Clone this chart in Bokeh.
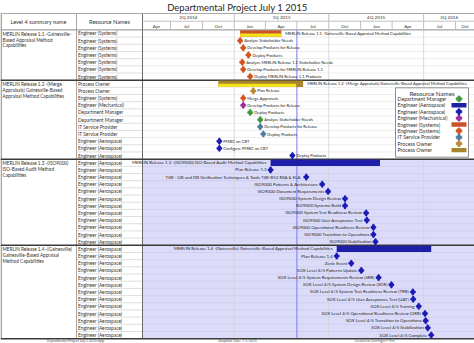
import pandas as pd
from bokeh.plotting import figure
from bokeh.models import Range1d
from bokeh.core.properties import value
from bokeh.embed import file_html
from bokeh.resources import INLINE

# ---------------- data ----------------
title_text = "Departmental Project July 1 2015"
col_headers = ["Level 4 summary name", "Resource Names"]
status_date = "2015-07-01"
view_start = "2014-04-11"
view_end = "2016-11-25"

upper_tier_starts = ["2014-04-01", "2015-01-01", "2015-10-01", "2016-07-01", "2017-04-01"]
upper_tier_labels = ["2Q 2014", "1Q 2015", "4Q 2015", "3Q 2016"]
lower_tier_starts = ["2014-04-01", "2014-07-01", "2014-10-01", "2015-01-01", "2015-04-01",
                     "2015-07-01", "2015-10-01", "2016-01-01", "2016-04-01", "2016-07-01",
                     "2016-10-01", "2017-01-01"]
lower_tier_labels = ["Apr", "Jul", "Oct", "Jan", "Apr", "Jul", "Oct", "Jan", "Apr", "Jul", "Oct"]

section_titles = [
    ["MERLIN Release 1.1 -Gainesville-", "Based Appraisal Method", "Capabilities"],
    ["MERLIN Release 1.2 -(Merge", "Appraisals) Gainesville-Based", "Appraisal Method Capabilities"],
    ["MERLIN Release 1.3 -(ISO9000)", "ISO-Based Audit Method", "Capabilities"],
    ["MERLIN Release 1.4 -(Gainesville)", "Gainesville-Based Appraisal", "Method Capabilities"],
]
section_sizes = [7, 11, 12, 13]
section_label_side = ["right", "right", "left", "left"]

resources = (["Engineer (Systems)"] * 7 +
             ["Process Owner", "Process Owner", "Engineer (Systems)", "Engineer (Mechanical)",
              "Department Manager", "Department Manager", "IT Service Provider",
              "IT Service Provider", "Engineer (Aerospace)", "Engineer (Aerospace)",
              "Engineer (Aerospace)"] +
             ["Engineer (Aerospace)"] * 25)

task_names = [
    "MERLIN Release 1.1 -Gainesville-Based Appraisal Method Capabilities",
    "Analyze Stakeholder Needs",
    "Develop Products for Release",
    "Deploy Products",
    "Analyze MERLIN Release 1.1 Stakeholder Needs",
    "Develop Products for MERLIN Release 1.1",
    "Deploy MERLIN Release 1.1 Products",
    "MERLIN Release 1.2 -(Merge Appraisals) Gainesville-Based Appraisal Method Capabilities",
    "Plan Release",
    "Merge Appraisals",
    "Develop Products for Release",
    "Deploy Products",
    "Analyze Stakeholder Needs",
    "Develop Products for Release",
    "Deploy Products",
    "PMBC on CBT",
    "Configure PMBC on CBT",
    "Deploy Products",
    "MERLIN Release 1.3 -(ISO9000) ISO-Based Audit Method Capabilities",
    "Plan Release 1.3",
    "TSB - OB and DB Verification Techniques & Tools  TSB-B53 RSA & ELA",
    "ISO9000 Patterns & Architecture",
    "ISO9000 Document Requirements",
    "ISO9000 System Design Review",
    "ISO9000 Systems Build",
    "ISO9000 System Test Readiness Review",
    "ISO9000 User Acceptance Test",
    "ISO9000 Operational Readiness Review",
    "ISO9000 Transition to Operations",
    "ISO9000 Stabilization",
    "MERLIN Release 1.4 -(Gainesville) Gainesville-Based Appraisal Method Capabilities",
    "Plan Release 1.4",
    "Zenic Event",
    "SOX Level 4/5 Patterns Update",
    "SOX Level 4/5 System Requirements Review (SRR)",
    "SOX Level 4/5 System Design Review (SDR)",
    "SOX Level 4/5 System Test Readiness Review (TRR)",
    "SOX Level 4/5 User Acceptance Test (UAT)",
    "SOX Level 4/5 Training",
    "SOX Level 4/5 Operational Readiness Review (ORR)",
    "SOX Level 4/5 Transition to Operations",
    "SOX Level 4/5 Stabilization",
    "SOX Level 4/5 Complete",
]

task_start = [
    "2015-01-18", "2015-01-18", "2015-01-27", "2015-02-11", "2015-01-24", "2015-01-27", "2015-02-16",
    "2014-11-16", "2015-02-25", "2015-01-27", "2015-01-27", "2015-02-16", "2015-03-17", "2015-03-17",
    "2015-03-26", "2014-11-19", "2014-11-19", "2015-06-18",
    "2015-04-16", "2015-04-16", "2015-07-28", "2015-09-12", "2015-09-29", "2015-11-17", "2015-11-17",
    "2016-01-17", "2016-01-19", "2016-02-07", "2016-02-07", "2016-02-13",
    "2015-10-24", "2015-10-24", "2015-12-05", "2016-01-03", "2016-02-22", "2016-03-30", "2016-05-31",
    "2016-06-01", "2016-06-17", "2016-07-05", "2016-07-07", "2016-07-13", "2016-07-23",
]
task_finish = [None] * 43
task_finish[0] = "2015-05-17"
task_finish[7] = "2015-07-19"
task_finish[18] = "2016-02-26"
task_finish[30] = "2016-07-23"
task_progress = [None] * 43
task_progress[0] = "2015-05-17"
task_progress[7] = "2015-06-29"

milestone_colors = {
    "Department Manager": "#3c9a3c",
    "Engineer (Aerospace)": "#1c1cb4",
    "Engineer (Mechanical)": "#9c2c9c",
    "Engineer (Systems)": "#d4531f",
    "IT Service Provider": "#4e7ea2",
    "Process Owner": "#b88c34",
}
bar_colors = {
    "Engineer (Aerospace)": "#1e1ea8",
    "Engineer (Systems)": "#c9532b",
    "Process Owner": "#a8842c",
}
progress_color = "#f4e21a"

legend_labels = ["Department Manager", "Engineer (Aerospace)", "Engineer (Aerospace)",
                 "Engineer (Mechanical)", "Engineer (Systems)", "Engineer (Systems)",
                 "IT Service Provider", "Process Owner", "Process Owner"]
legend_kinds = ["milestone", "bar", "milestone", "milestone", "bar", "milestone",
                "milestone", "milestone", "bar"]

footer_texts = ["Departmental Project July 1 2015.mpp", "Snapshot Date: 7/1/2015",
                "Created in OnePager\u00ae Pro"]

# ---------------- layout ----------------
W, H = 474, 343
TABLE_W = 142
COL1_W = 76
HEADER_TOP = 13.0
TIER_SPLIT = 20.7
BODY_TOP = 29.4
ROW_H = 7.18
FONT = value("Lato")


def ms(d):
    return pd.Timestamp(d).value / 1e6


MSPP = (ms(view_end) - ms(view_start)) / (W - TABLE_W)
X_LEFT = ms(view_start) - TABLE_W * MSPP
X_RIGHT = ms(view_end)


def px(xp):
    return X_LEFT + xp * MSPP


n = len(task_names)
row_y = [BODY_TOP + ROW_H * (i + 0.5) for i in range(n)]
bounds = [BODY_TOP]
for s in section_sizes:
    bounds.append(bounds[-1] + s * ROW_H)
BODY_BOTTOM = bounds[-1]
section_of = []
for si, s in enumerate(section_sizes):
    section_of += [si] * s

p = figure(width=W, height=H, x_range=Range1d(X_LEFT, X_RIGHT), y_range=Range1d(H, 0),
           output_backend="svg", toolbar_location=None, min_border=0,
           x_axis_location=None, y_axis_location=None)
p.grid.visible = False
p.outline_line_color = None
p.background_fill_color = "white"
p.border_fill_color = "white"

# lavender background for sections 3-4 chart area
p.quad(left=[px(TABLE_W)], right=[X_RIGHT], top=[bounds[2]], bottom=[bounds[4]],
       fill_color="#dcdcf9", line_color=None)

# row lines
chart_x0, chart_x1, cy, cc = [], [], [], []
for i in range(n):
    yb = BODY_TOP + ROW_H * (i + 1)
    chart_x0.append(px(TABLE_W)); chart_x1.append(X_RIGHT); cy.append(yb)
    cc.append("#e8e8e8" if section_of[i] < 2 else "#cdcdf2")
p.segment(x0=chart_x0, x1=chart_x1, y0=cy, y1=cy, line_color=cc, line_width=0.8)
p.segment(x0=[px(COL1_W)] * n, x1=[px(TABLE_W)] * n, y0=cy, y1=cy,
          line_color="#d6d6d6", line_width=0.8)

# vertical faint grid at upper tier boundaries
vx = [ms(d) for d in upper_tier_starts if ms(view_start) < ms(d) < X_RIGHT]
p.segment(x0=vx, x1=vx, y0=[BODY_TOP] * len(vx), y1=[BODY_BOTTOM] * len(vx),
          line_color="#d2d2d2", line_width=0.8)

# table verticals
p.segment(x0=[px(COL1_W), px(TABLE_W)], x1=[px(COL1_W), px(TABLE_W)],
          y0=[HEADER_TOP, HEADER_TOP], y1=[BODY_BOTTOM, BODY_BOTTOM],
          line_color=["#a8a8a8", "#6a6a6a"], line_width=1)
p.segment(x0=[px(0.7)], x1=[px(0.7)], y0=[HEADER_TOP], y1=[BODY_BOTTOM],
          line_color="#a0a0a0", line_width=1.5)

# header
p.segment(x0=[px(0), px(TABLE_W), px(0)], x1=[X_RIGHT, X_RIGHT, X_RIGHT],
          y0=[HEADER_TOP, TIER_SPLIT, BODY_TOP], y1=[HEADER_TOP, TIER_SPLIT, BODY_TOP],
          line_color=["#a8a8a8", "#c0c0c0", "#8a8a8a"], line_width=1)
ux = [ms(d) for d in upper_tier_starts if ms(view_start) < ms(d) < X_RIGHT]
p.segment(x0=ux, x1=ux, y0=[HEADER_TOP] * len(ux), y1=[TIER_SPLIT] * len(ux),
          line_color="#c0c0c0", line_width=1)
lx = [ms(d) for d in lower_tier_starts if ms(view_start) < ms(d) < X_RIGHT]
p.segment(x0=lx, x1=lx, y0=[TIER_SPLIT] * len(lx), y1=[BODY_TOP] * len(lx),
          line_color="#c0c0c0", line_width=1)


def tier_centers(starts, labels):
    xs, ts = [], []
    for k, lab in enumerate(labels):
        a = max(ms(starts[k]), ms(view_start))
        b = min(ms(starts[k + 1]), X_RIGHT)
        if b > a:
            xs.append((a + b) / 2); ts.append(lab)
    return xs, ts


uxs, uts = tier_centers(upper_tier_starts, upper_tier_labels)
p.text(x=uxs, y=[(HEADER_TOP + TIER_SPLIT) / 2] * len(uxs), text=uts, text_font=FONT,
       text_font_size="4.6px", text_align="center", text_baseline="middle", text_color="#333333")
lxs, lts = tier_centers(lower_tier_starts, lower_tier_labels)
p.text(x=lxs, y=[(TIER_SPLIT + BODY_TOP) / 2] * len(lxs), text=lts, text_font=FONT,
       text_font_size="4.6px", text_align="center", text_baseline="middle", text_color="#333333")

p.text(x=[px(COL1_W / 2), px((COL1_W + TABLE_W) / 2)], y=[21.3, 21.3], text=col_headers,
       text_font=FONT, text_font_size="5.6px", text_align="center", text_baseline="middle",
       text_color="#333333")

# title
p.text(x=[px(W / 2)], y=[6.8], text=[title_text], text_font=FONT, text_font_size="9.5px",
       text_align="center", text_baseline="middle", text_color="#262626")

# table body text
p.text(x=[px(77.5)] * n, y=row_y, text=resources, text_font=FONT, text_font_size="4.8px",
       text_align="left", text_baseline="middle", text_color="#333333")
tx, ty, tt = [], [], []
for si, lines in enumerate(section_titles):
    for li, line in enumerate(lines):
        tx.append(px(2)); ty.append(bounds[si] + 3.7 + 5.9 * li); tt.append(line)
p.text(x=tx, y=ty, text=tt, text_font=FONT, text_font_size="4.7px", text_align="left",
       text_baseline="middle", text_color="#333333")

# status line
p.segment(x0=[ms(status_date)], x1=[ms(status_date)], y0=[BODY_TOP], y1=[BODY_BOTTOM],
          line_color="#7b7bf0", line_width=1)

# section separators
sep_y = bounds[1:]
p.segment(x0=[px(0)] * len(sep_y), x1=[X_RIGHT] * len(sep_y), y0=sep_y, y1=sep_y,
          line_color="#3a3a3a", line_width=1.5)

# summary bars
for i in range(n):
    if task_finish[i] is None:
        continue
    col = bar_colors[resources[i]]
    y = row_y[i]
    p.quad(left=[ms(task_start[i])], right=[ms(task_finish[i])], top=[y - 3.2], bottom=[y + 3.2],
           fill_color=col, line_color=None)
    if task_progress[i] is not None:
        p.quad(left=[ms(task_start[i])], right=[ms(task_progress[i])], top=[y], bottom=[y + 3.2],
               fill_color=progress_color, line_color=None)

# milestones
mx, my, mc = [], [], []
for i in range(n):
    if task_finish[i] is None:
        mx.append(ms(task_start[i])); my.append(row_y[i]); mc.append(milestone_colors[resources[i]])
p.scatter(x=mx, y=my, marker="diamond", size=7, fill_color=mc, line_color=mc, line_width=0.4)
p.scatter(x=mx, y=my, marker="plus", size=5.2, fill_color=mc, line_color=mc, line_width=0.3)

# task labels
rx, ry, rt, lx2, ly2, lt2 = [], [], [], [], [], []
for i in range(n):
    side = section_label_side[section_of[i]]
    if side == "right":
        xe = ms(task_finish[i]) if task_finish[i] is not None else ms(task_start[i])
        rx.append(xe); ry.append(row_y[i]); rt.append(task_names[i])
    else:
        lx2.append(ms(task_start[i])); ly2.append(row_y[i]); lt2.append(task_names[i])
p.text(x=rx, y=ry, text=rt, text_font=FONT, text_font_size="4.1px", text_align="left",
       text_baseline="middle", text_color="#222222", x_offset=4)
p.text(x=lx2, y=ly2, text=lt2, text_font=FONT, text_font_size="4.4px", text_align="right",
       text_baseline="middle", text_color="#222222", x_offset=-4)

# legend
LG_L, LG_R, LG_T, LG_B = 395, 468, 87.3, 156.7
p.quad(left=[px(LG_L)], right=[px(LG_R)], top=[LG_T], bottom=[LG_B], fill_color="white",
       line_color="#8c8c8c", line_width=1)
p.text(x=[px((LG_L + LG_R) / 2)], y=[92.6], text=["Resource Names"], text_font=FONT,
       text_font_size="6.2px", text_align="center", text_baseline="middle", text_color="#333333")
ly = [98.4 + 6.4 * k for k in range(len(legend_labels))]
p.text(x=[px(397)] * len(ly), y=ly, text=legend_labels, text_font=FONT, text_font_size="5.2px",
       text_align="left", text_baseline="middle", text_color="#333333")
for k, kind in enumerate(legend_kinds):
    if kind == "bar":
        p.quad(left=[px(451)], right=[px(466)], top=[ly[k] - 2.2], bottom=[ly[k] + 2.2],
               fill_color=bar_colors[legend_labels[k]], line_color=None)
    else:
        c = milestone_colors[legend_labels[k]]
        p.scatter(x=[px(458.5)], y=[ly[k]], marker="plus", size=5.5, fill_color=c, line_color=c)

# footer
p.text(x=[px(75), px(237), px(374)], y=[340.6] * 3, text=footer_texts, text_font=FONT,
       text_font_size="3.4px", text_align="center", text_baseline="middle", text_color="#555555")

open("out.html", "w").write(file_html(p, INLINE))
